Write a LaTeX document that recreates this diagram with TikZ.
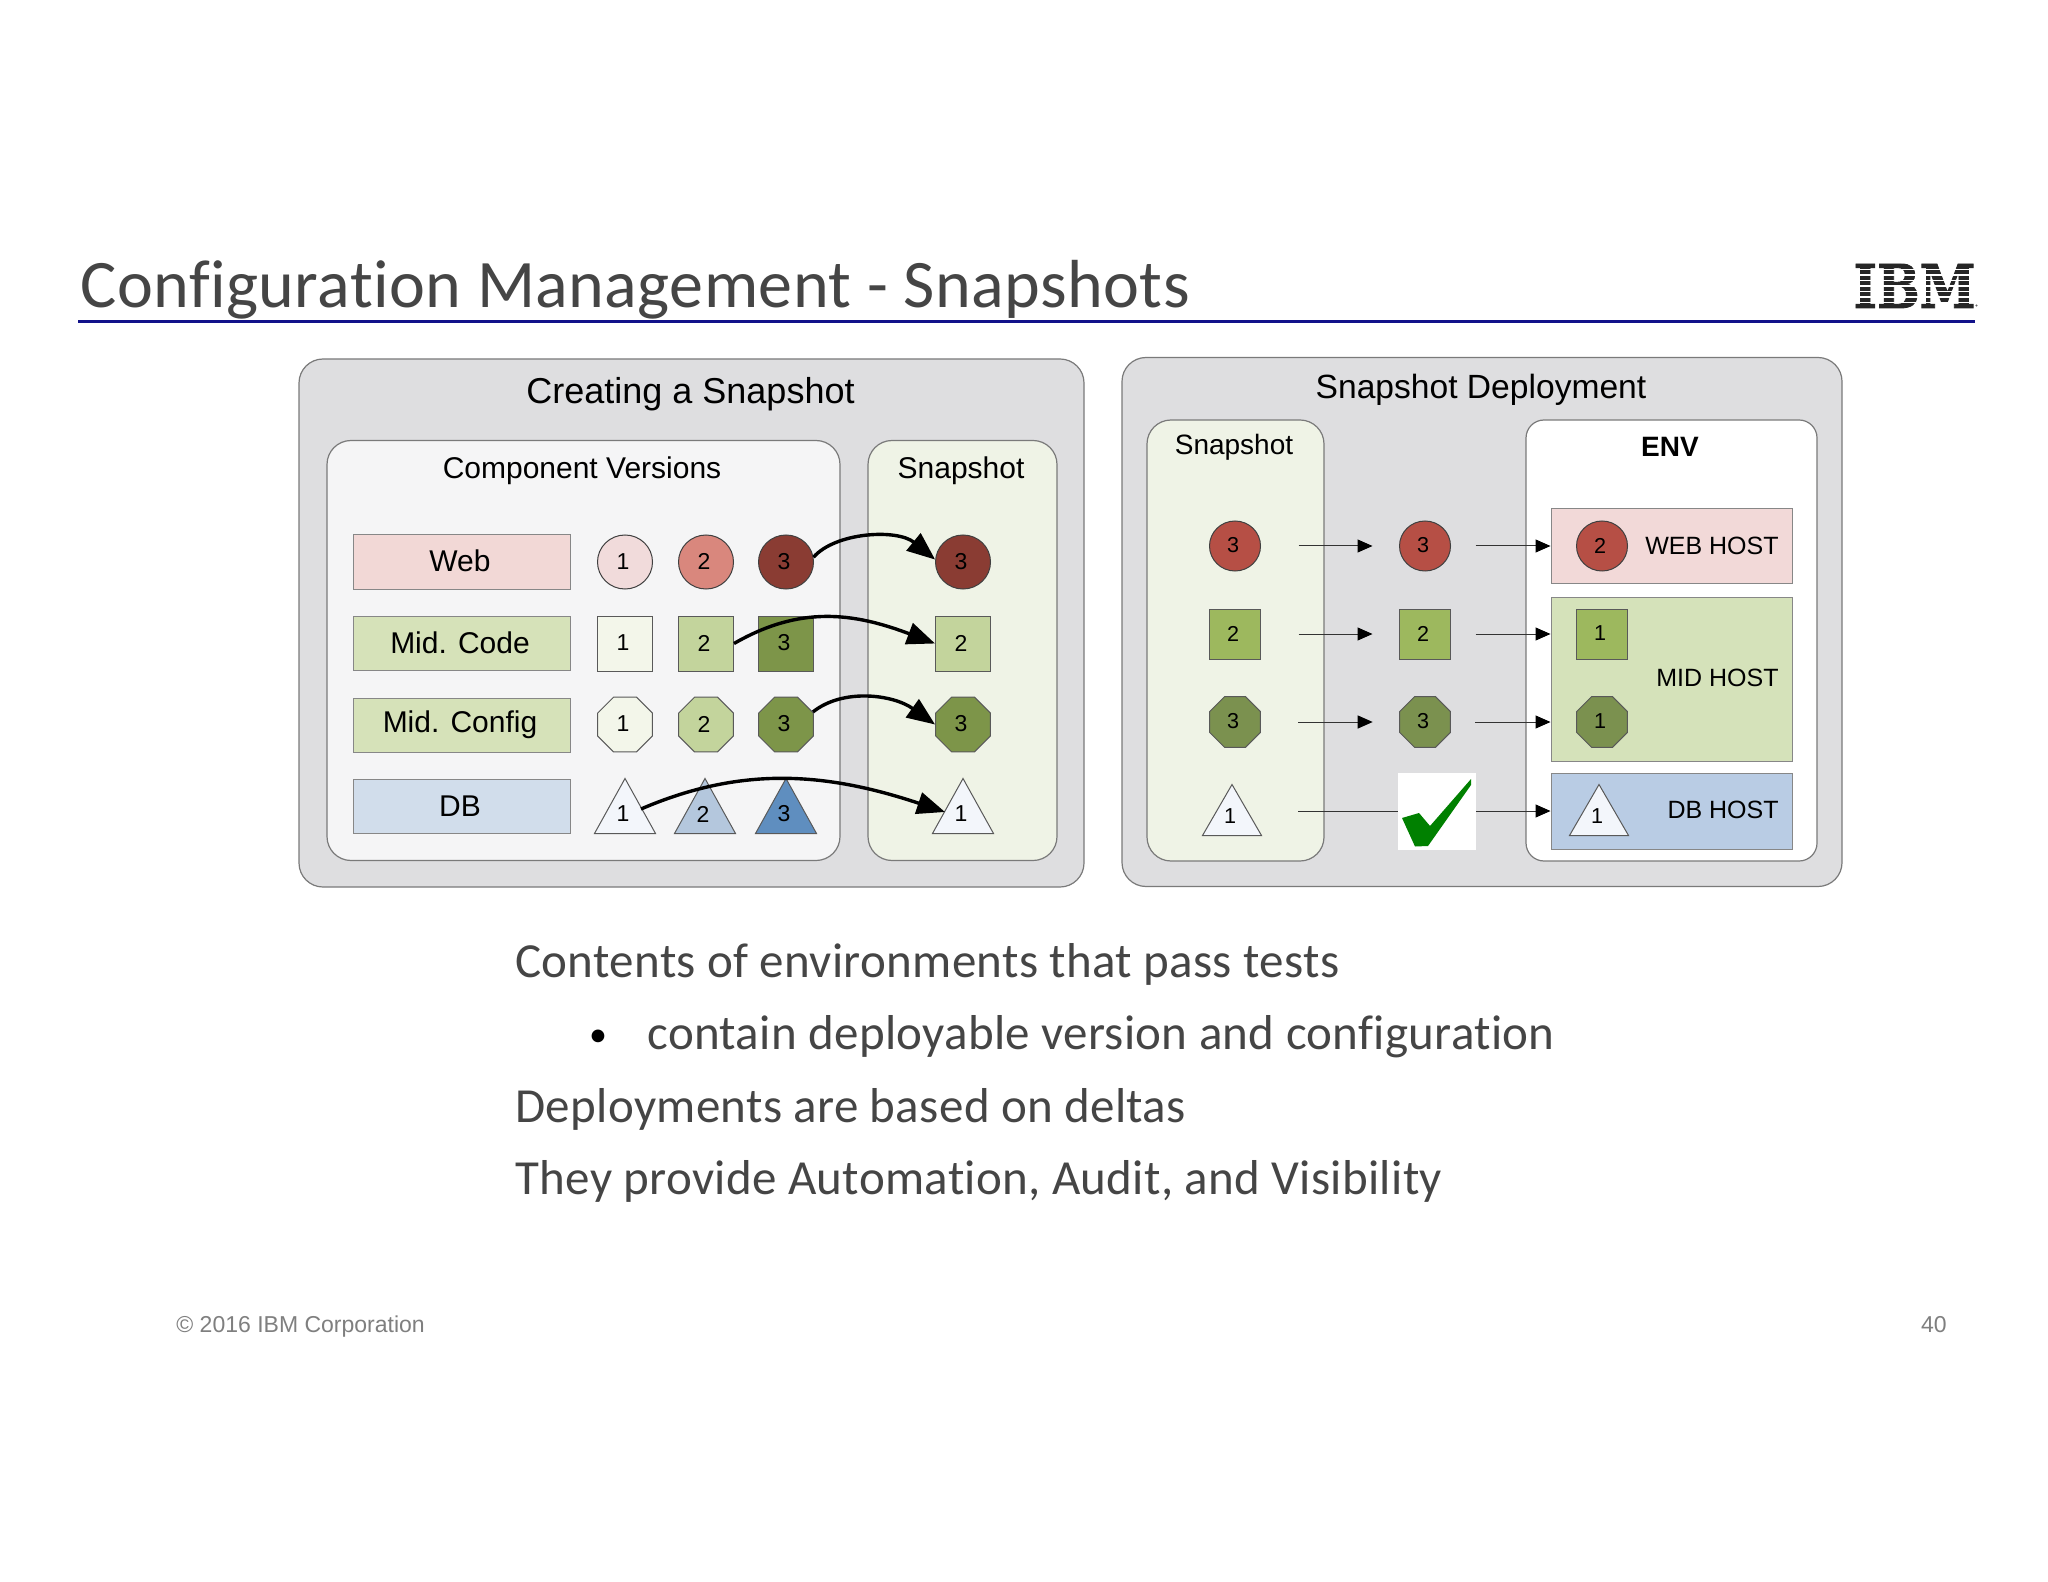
\documentclass[tikz,border=0pt]{standalone}
\usepackage{fontspec}
\usepackage{graphicx}
\setmainfont{Liberation Sans}
\newfontfamily\slide[Ligatures=NoCommon,LetterSpace=0.65]{Carlito}
\newfontfamily\logo[BoldFeatures={FakeBold=1.5}]{DejaVu Serif}
\usetikzlibrary{shapes.geometric,arrows.meta}
\definecolor{outerc}{HTML}{DEDEE0}
\definecolor{edgec}{HTML}{7A7A7A}
\definecolor{compc}{HTML}{F5F5F6}
\definecolor{snapc}{HTML}{EFF3E6}
\definecolor{webl}{HTML}{F2D8D6}
\definecolor{midl}{HTML}{D6E2B9}
\definecolor{dbl}{HTML}{D1DDEB}
\definecolor{wa}{HTML}{F1DBDB}
\definecolor{wb}{HTML}{D9877D}
\definecolor{wc}{HTML}{8A3C33}
\definecolor{ma}{HTML}{F3F6EA}
\definecolor{mb}{HTML}{C3D49C}
\definecolor{mc}{HTML}{7D9549}
\definecolor{da}{HTML}{F3F6FB}
\definecolor{db}{HTML}{B4C7DD}
\definecolor{dc}{HTML}{5F8EBF}
\definecolor{rw}{HTML}{B64F45}
\definecolor{rm}{HTML}{9DB85E}
\definecolor{ro}{HTML}{7B914F}
\definecolor{hw}{HTML}{F2D9D8}
\definecolor{hm}{HTML}{D5E2BA}
\definecolor{hd}{HTML}{B9CCE4}
\definecolor{navy}{HTML}{12128A}
\definecolor{bodyc}{HTML}{454545}
\definecolor{footc}{HTML}{7F7F7F}
\tikzset{
  x=0.5pt,y=-0.5pt,
  panel/.style={draw=edgec,line width=0.6pt,rounded corners=12pt,inner sep=0pt},
  plainbox/.style={draw=edgec!90,line width=0.5pt,inner sep=0pt},
  circ/.style={ellipse,draw=black!75,line width=0.5pt,inner sep=0pt,minimum width=27.5pt,minimum height=27pt},
  sq/.style={rectangle,draw=black!65,line width=0.5pt,inner sep=0pt,minimum width=27.5pt,minimum height=27.5pt},
  oct/.style={regular polygon,regular polygon sides=8,draw=black!65,line width=0.5pt,inner sep=0pt,minimum size=29.7pt},
  tri/.style={isosceles triangle,isosceles triangle apex angle=58,isosceles triangle stretches,shape border rotate=90,draw=black!65,line width=0.5pt,inner sep=0pt,minimum width=30.5pt,minimum height=27.5pt},
  circr/.style={circ,minimum width=25.5pt,minimum height=25pt},
  sqr/.style={sq,minimum width=25.5pt,minimum height=25pt},
  octr/.style={oct,minimum size=27.4pt},
  trir/.style={tri,minimum width=29.5pt,minimum height=25.5pt},
  num/.style={font=\fontsize{11.5}{12}\selectfont,inner sep=0pt},
  numr/.style={font=\fontsize{10.8}{12}\selectfont,inner sep=0pt},
  bigarrow/.style={line width=1.7pt,black,-{Triangle[length=14pt,width=11pt]}},
  thinarrow/.style={line width=0.5pt,draw=black!80,-{Triangle[length=7.5pt,width=6.5pt,black]}},
  head/.style={font=\fontsize{18}{20}\selectfont,inner sep=0pt},
  sub/.style={font=\fontsize{15}{17}\selectfont,inner sep=0pt},
  host/.style={font=\fontsize{12.5}{14}\selectfont,inner sep=0pt,anchor=east},
  bodytext/.style={font=\slide\fontsize{24.5}{28}\selectfont,text=bodyc,inner sep=0pt,anchor=base west},
  foot/.style={font=\fontsize{11.5}{13}\selectfont,text=footc,inner sep=0pt},
}
\newcommand{\rb}[7]{\node[#6,fill=#7,minimum width=#4*0.5pt,minimum height=#5*0.5pt] (#1) at (#2,#3) {};}
\newcommand{\shp}[7]{\node[#4,fill=#5] (#1) at (#2,#3) {};\node[#7] (#1t) at (#2-2,#3-0.5) {#6};}
\newcommand{\trn}[7]{\node[#7,fill=#4,anchor=south] (#1) at (#2,#3) {};\node[#6] (#1t) at (#2-2,#3-20) {#5};}
\begin{document}
\begin{tikzpicture}
\useasboundingbox (0,0) rectangle (2048,1582);
\fill[white] (0,0) rectangle (2048,1582);
% slide header
\node[font=\slide\fontsize{34}{38}\selectfont,text=bodyc,inner sep=0pt,anchor=base west] (title) at (80,308) {Configuration Management - Snapshots};
\coordinate (ruleL) at (78,321.5);
\coordinate (ruleR) at (1975,321.5);
\draw[navy,line width=1.2pt] (ruleL) -- (ruleR);
\node[inner sep=0pt,text=black!85] (ibm) at (1914.5,286) {\resizebox{61pt}{22pt}{\logo\bfseries IBM}};
\foreach \yy in {269.5,275,280.5,286,291.5,297,302.5}{\fill[white] (1848,\yy-0.9) rectangle (1977,\yy+0.9);}
\fill[black!60] (1976.5,305.5) circle (0.6pt);
% left panel
\rb{leftp}{691.5}{623}{785}{528}{panel}{outerc}
\rb{comp}{583.5}{650.5}{513}{420}{panel}{compc}
\rb{snapl}{962.5}{650.5}{189}{420}{panel}{snapc}
\node[head] (lhead) at (690.5,394) {Creating a Snapshot};
\node[sub] (lcomp) at (582,471) {Component Versions};
\node[sub] (lsnap) at (961,471) {Snapshot};
\rb{lweb}{462}{562}{216.5}{54}{plainbox}{webl}
\rb{lmid}{462}{643.5}{216.5}{54}{plainbox}{midl}
\rb{lcfg}{462}{725}{216.5}{54}{plainbox}{midl}
\rb{ldb}{462}{806.5}{216.5}{54}{plainbox}{dbl}
\node[sub] (tweb) at (460,561) {Web};
\node[sub] (tmid) at (460,643) {Mid. Code};
\node[sub] (tcfg) at (460,725) {Mid. Config};
\node[sub] (tdb) at (460,806) {DB};
\shp{wa}{625}{562}{circ}{wa}{1}{num}
\shp{wb}{706}{562}{circ}{wb}{2}{num}
\shp{wc}{786}{562}{circ}{wc}{3}{num}
\shp{ws}{963}{562}{circ}{wc}{3}{num}
\shp{qa}{625}{643.5}{sq}{ma}{1}{num}
\shp{qb}{706}{643.5}{sq}{mb}{2}{num}
\shp{qc}{786}{643.5}{sq}{mc}{3}{num}
\shp{qs}{963}{643.5}{sq}{mb}{2}{num}
\shp{oa}{625}{724.5}{oct}{ma}{1}{num}
\shp{ob}{706}{724.5}{oct}{mb}{2}{num}
\shp{oc}{786}{724.5}{oct}{mc}{3}{num}
\shp{os}{963}{724.5}{oct}{mc}{3}{num}
\trn{ta}{625}{834}{da}{1}{num}{tri}
\trn{tb}{705}{834}{db}{2}{num}{tri}
\trn{tc}{786}{834}{dc}{3}{num}{tri}
\trn{ts}{963}{834}{da}{1}{num}{tri}
\coordinate (dbfrom) at (641,809);
\coordinate (dbto) at (945,812);
\draw[bigarrow] (wc.10) .. controls +(22,-25) and +(-38,-31) .. (ws.175);
\draw[bigarrow] (qb.east) .. controls +(66,-38) and +(-82,-31) .. (qs.west);
\draw[bigarrow] (oc.25) .. controls +(30,-24) and +(-42,-30) .. (os.west);
\draw[bigarrow] (dbfrom) .. controls +(100,-43) and +(-120,-40) .. (dbto);
% right panel
\rb{rightp}{1482}{622}{720}{529}{panel}{outerc}
\rb{snapr}{1235.5}{640.5}{177}{441}{panel}{snapc}
\rb{env}{1671.5}{640.5}{291}{441}{panel,rounded corners=9pt}{white}
\node[font=\fontsize{16.8}{19}\selectfont,inner sep=0pt] (rhead) at (1481,390) {Snapshot Deployment};
\node[font=\fontsize{14}{16}\selectfont,inner sep=0pt] (rsnap) at (1234,447) {Snapshot};
\node[font=\fontsize{14}{16}\selectfont\bfseries,inner sep=0pt] (renv) at (1670,447) {ENV};
\rb{hweb}{1671.5}{546.5}{241}{75}{plainbox}{hw}
\rb{hmid}{1671.5}{679}{241}{164}{plainbox}{hm}
\rb{hdb}{1671.5}{811}{241}{76}{plainbox}{hd}
\node[host] (tw) at (1779,546) {WEB HOST};
\node[host] (tm) at (1779,678) {MID HOST};
\node[host] (td) at (1779,810) {DB HOST};
\shp{ca}{1235}{546}{circr}{rw}{3}{numr}
\shp{cb}{1425}{546}{circr}{rw}{3}{numr}
\shp{cc}{1602}{546}{circr}{rw}{2}{numr}
\shp{sa}{1235}{634}{sqr}{rm}{2}{numr}
\shp{sb}{1425}{634}{sqr}{rm}{2}{numr}
\shp{sc}{1602}{634}{sqr}{rm}{1}{numr}
\shp{pa}{1235}{722}{octr}{ro}{3}{numr}
\shp{pb}{1425}{722}{octr}{ro}{3}{numr}
\shp{pc}{1602}{722}{octr}{ro}{1}{numr}
\trn{ra}{1232}{836}{da}{1}{numr}{trir}
\trn{rc}{1599}{836}{da}{1}{numr}{trir}
\tikzset{row1/.style={shorten <=18.75pt,shorten >=13.25pt},row2/.style={shorten <=12.25pt}}
\draw[thinarrow,row1] (ca.east) -- (cb.west);
\draw[thinarrow,row1] (sa.east) -- (sb.west);
\draw[thinarrow,row1] (pa.east) -- (pb.west);
\draw[thinarrow,row2] (cb.east) -- (cb.east -| hweb.west);
\draw[thinarrow,row2] (sb.east) -- (sb.east -| hmid.west);
\draw[thinarrow,row2] (pb.east) -- (pb.east -| hmid.west);
\coordinate (lastfrom) at (1298,811);
\draw[line width=0.5pt,draw=black!80] (lastfrom) -- (1400,811);
\node[fill=white,minimum width=39pt,minimum height=38.5pt,inner sep=0pt] (okbox) at (1437,811) {};
\draw[thinarrow] (okbox.east) -- (okbox.east -| hdb.west);
\fill[green!50!black] (1402,818) -- (1419,813) -- (1430,826) -- (1471,779) -- (1471,785) -- (1428,846) -- (1415,846.5) -- cycle;
% body text
\node[bodytext] (l1) at (515,977) {Contents of environments that pass tests};
\node[inner sep=0pt,font=\slide\fontsize{18}{20}\selectfont,text=black,anchor=base] (bul) at (598,1046) {•};
\node[bodytext] (l2) at (647,1049) {contain deployable version and configuration};
\node[bodytext] (l3) at (515,1122) {Deployments are based on deltas};
\node[bodytext] (l4) at (515,1194) {They provide Automation, Audit, and Visibility};
% footer
\node[foot,anchor=west] (copy) at (176,1327) {© 2016 IBM Corporation};
\node[foot,anchor=east] (page) at (1947,1325) {40};
\end{tikzpicture}
\end{document}
